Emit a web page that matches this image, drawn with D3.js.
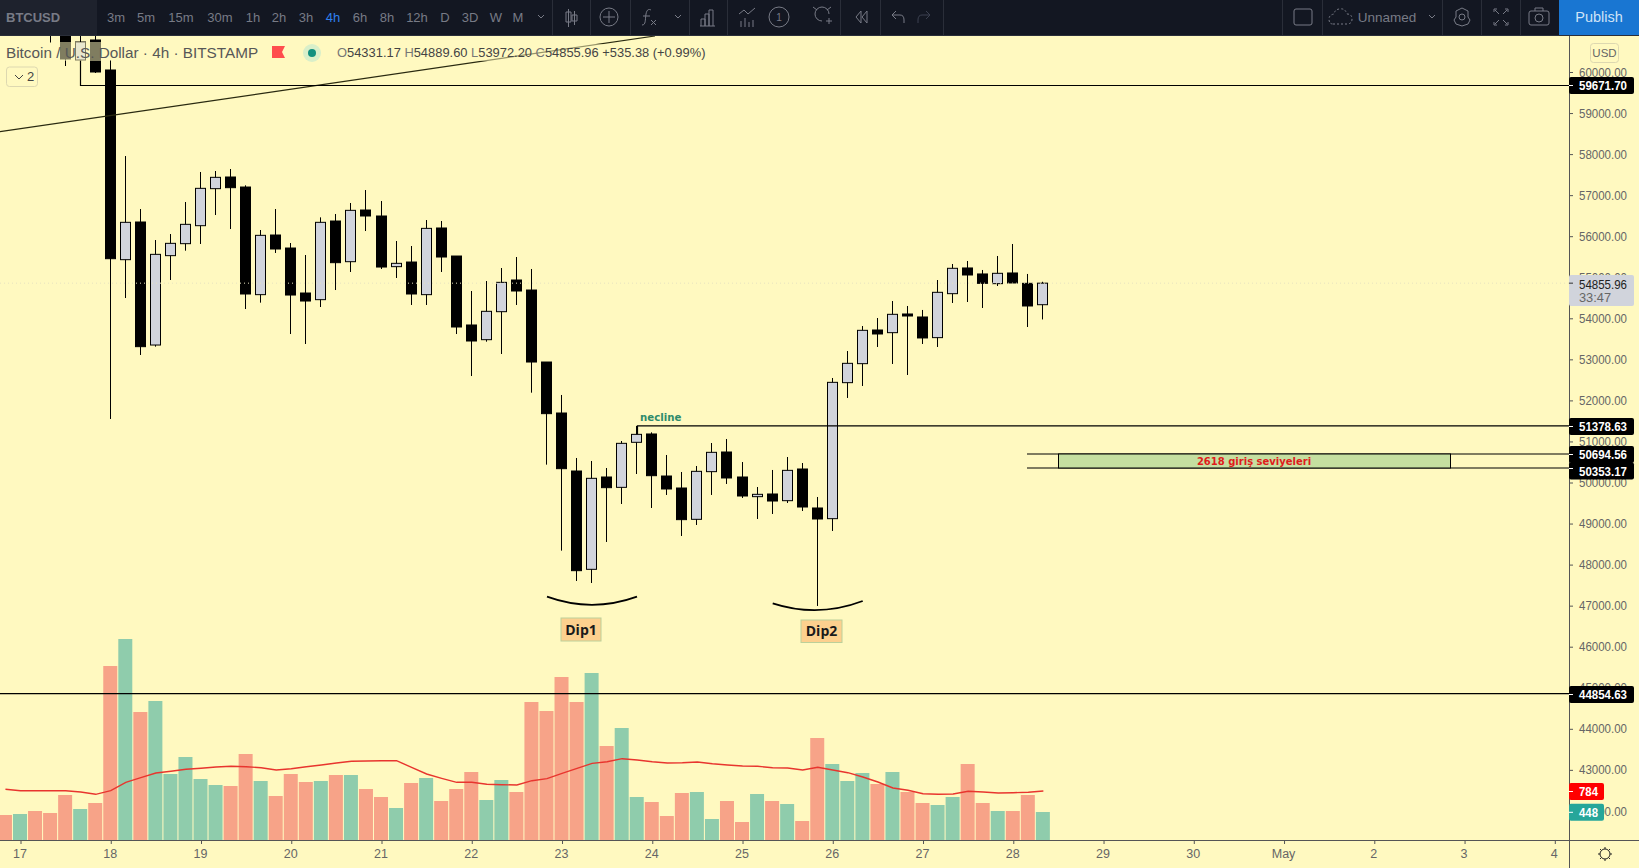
<!DOCTYPE html>
<html><head><meta charset="utf-8">
<script src="https://cdn.jsdelivr.net/npm/d3@7/dist/d3.min.js"></script>
<style>html,body{margin:0;padding:0;background:#fff9c0;overflow:hidden}svg{display:block}text{font-family:"Liberation Sans",sans-serif}</style>
</head><body><svg id="c" width="1639" height="868"></svg>
<script>
const opens=[61700,61650,61600,61500,60292,60780,60049,55428,56346,53349,55526,55818,56256,57158,57442,57198,54576,56029,55712,54616,54454,56370,55379,56638,56492,55258,55371,54576,56200,55517,53837,53479,54161,54933,54689,52935,51693,50280,47885,50134,49882,50979,51182,50158,49866,49103,50264,50743,50134,49655,49720,49557,50329,49379,49119,52432,52895,53715,53650,54105,54032,53529,54600,55226,55080,54844,55104,54852,54331.17];
const closes=[61650,61600,61500,60317,60731,60000,55452,56338,53309,55558,55826,56289,57166,57434,57182,54592,56021,55688,54567,54421,56338,55355,56630,56492,55249,55339,54592,56191,55493,53788,53447,54170,54876,54665,52935,51677,50337,47852,50102,49874,50954,51173,50166,49842,49095,50272,50735,50110,49671,49712,49549,50296,49403,49111,52440,52903,53707,53618,54097,54056,53521,54633,55218,55055,54852,55096,54860,54300,54855.96];
const highs=[62000,62000,62000,61900,61000,61300,60292,57953,56662,55907,56053,56833,57564,57588,57637,57239,56151,56662,55834,55542,56459,56541,56809,57125,56857,55883,55761,56394,56370,55517,54665,54908,55225,55493,55201,52935,52132,50597,50524,50353,51011,51378,51222,50670,50256,50402,50962,51060,50499,49890,50305,50621,50475,49647,52546,53203,53812,54007,54421,54300,54203,54933,55323,55396,55177,55518,55810,55080,54889.60];
const lows=[61400,61300,60706,60146,60200,59976,51547,54494,53106,53309,54933,55647,55810,56516,56175,54226,54381,55591,53617,53374,54275,54689,55128,56126,55201,54982,54324,54324,55128,53617,52594,53430,53130,54324,52188,50435,48340,47601,47552,48551,49476,50207,49379,49696,48697,48965,49696,49964,49623,49111,49233,49501,49306,46992,48819,52059,52351,53301,52887,52619,53374,53301,54373,54397,54251,54787,54844,53788,53972.20];
const volumes=[416,464,432,720,496,592,2784,3216,2048,2224,1056,1328,976,880,864,1376,944,704,1056,928,944,1040,1040,816,688,512,912,992,624,816,1088,640,960,768,2208,2064,2608,2208,2672,1504,1792,688,608,384,752,768,336,624,288,736,624,576,304,1632,1216,944,1072,896,1088,768,592,560,688,1216,592,464,464,720,448];
const volumeUp=[1,0,0,0,1,0,0,1,0,1,1,1,1,1,0,0,1,0,0,0,1,0,1,0,0,1,0,1,0,0,0,1,1,0,0,0,0,0,1,0,1,1,0,0,0,1,1,0,0,1,0,1,0,0,1,1,1,0,1,0,0,1,1,0,0,1,0,0,1];
const volumeMA=[789,789,789,789,768,731,789,923,997,1072,1099,1131,1147,1168,1179,1173,1157,1120,1141,1173,1200,1232,1259,1264,1269,1269,1163,1056,987,923,923,891,885,880,949,981,1067,1147,1227,1253,1301,1280,1253,1232,1237,1248,1221,1200,1184,1179,1157,1152,1120,1163,1120,1077,1008,928,832,795,741,731,736,779,768,752,757,763,784];
const earlyVolume=400, earlyMA=811;
const priceTicks=[60000,59000,58000,57000,56000,55000,54000,53000,52000,51000,50000,49000,48000,47000,46000,45000,44000,43000,42000];
const levels=[59671.70,51378.63,50694.56,50353.17,44854.63];
const dayLabels=["17","18","19","20","21","22","23","24","25","26","27","28","29","30","May","2","3","4"];
const intervals=["3m","5m","15m","30m","1h","2h","3h","4h","6h","8h","12h","D","3D","W","M"];
const intervalX=[116,146,181,220,253,279,306,333,360,387,417,445,470,496,518];
const separators=[552,590,630,689,727,840,880,943,1282,1322,1442,1481,1520];
const legendTitle="Bitcoin / U.S. Dollar · 4h · BITSTAMP";
const ohlc=[["O","54331.17"],["H","54889.60"],["L","53972.20"],["C","54855.96"]];

const W=1639,H=868,plotR=1569,plotTop=36,axisY=840;
const bg="#fff9c0",ink="#575757";
const svg=d3.select("#c");
const t0=Date.UTC(2021,3,17), hour=36e5;
const x=d3.scaleTime().domain([new Date(t0),new Date(Date.UTC(2021,4,4))]).range([20.5,1554.8]);
const y=d3.scaleLinear().domain([60000,42000]).range([72,810.9]);
const yVol=d3.scaleLinear().domain([0,3360]).range([axisY,630]);
const barX=i=>x(new Date(t0+i*4*hour));

svg.append("rect").attr("width",W).attr("height",H).attr("fill",bg);
svg.append("defs").append("clipPath").attr("id","plot").append("rect").attr("x",0).attr("y",plotTop).attr("width",plotR).attr("height",axisY-plotTop);
const plot=svg.append("g").attr("clip-path","url(#plot)");

// volume
const volColor=u=>u?"#8fccac":"#f7a388";
plot.append("rect").attr("x",barX(-1)-7.5).attr("width",14).attr("y",yVol(earlyVolume)).attr("height",axisY-yVol(earlyVolume)).attr("fill",volColor(0));
plot.selectAll(".v").data(volumes).join("rect").attr("x",(d,i)=>barX(i)-7.5).attr("width",14)
 .attr("y",d=>yVol(d)).attr("height",d=>axisY-yVol(d)).attr("fill",(d,i)=>volColor(volumeUp[i]));
const maPts=[[-1,earlyMA]].concat(volumeMA.map((d,i)=>[i,d]));
plot.append("path").attr("d",d3.line().x(d=>barX(d[0])).y(d=>yVol(d[1]))(maPts)).attr("fill","none").attr("stroke","#e8352e").attr("stroke-width",1.4);

// candles
const cg=plot.append("g");
opens.forEach((o,i)=>{
  const c=closes[i],cx=Math.round(barX(i))-.5,up=c>=o;
  cg.append("line").attr("x1",cx).attr("x2",cx).attr("y1",y(highs[i])).attr("y2",y(lows[i])).attr("stroke","#000");
  const y0=y(Math.max(o,c)),y1=y(Math.min(o,c));
  cg.append("rect").attr("x",cx-5).attr("width",10).attr("y",y0).attr("height",Math.max(y1-y0,1))
    .attr("fill",up?"#d1d4dc":"#000").attr("stroke","#000").attr("stroke-width",1);
});

// last price dotted
plot.append("line").attr("x1",0).attr("x2",plotR).attr("y1",y(54855.96)).attr("y2",y(54855.96)).attr("stroke","#e6e2c0").attr("stroke-dasharray","1 3");

// drawings
const dr=plot.append("g").attr("fill","none").attr("stroke","#000").attr("stroke-width",1.2);
dr.append("line").attr("x1",0).attr("y1",131.7).attr("x2",655).attr("y2",36).attr("stroke","#2a2a10");
dr.append("path").attr("d",`M80.5 60V${y(levels[0])}H${plotR}`);
dr.append("path").attr("d",`M637.5 ${y(51173)}V${y(levels[1])}H${plotR}`);
dr.append("line").attr("x1",0).attr("x2",plotR).attr("y1",y(levels[4])).attr("y2",y(levels[4]));
dr.append("line").attr("x1",1027).attr("x2",plotR).attr("y1",y(levels[2])).attr("y2",y(levels[2]));
dr.append("line").attr("x1",1027).attr("x2",plotR).attr("y1",y(levels[3])).attr("y2",y(levels[3]));
plot.append("rect").attr("x",1058.5).attr("width",392).attr("y",y(levels[2])).attr("height",y(levels[3])-y(levels[2])).attr("fill","#c5dfa0").attr("stroke","#000");
plot.append("text").attr("x",1254).attr("y",464.5).attr("text-anchor","middle").attr("fill","#e01b1b").attr("font-weight","bold").attr("font-size",10).style("font-family","'DejaVu Sans',sans-serif").text("2618 giriş seviyeleri");
plot.append("text").attr("x",640).attr("y",421).attr("fill","#2e8b6b").attr("font-weight","bold").attr("font-size",10.2).style("font-family","'DejaVu Sans',sans-serif").text("necline");
dr.append("path").attr("d","M547 596.7Q592 613 637 596.7").attr("stroke-width",1.8);
dr.append("path").attr("d","M772.7 603.3Q818 618 862.7 601").attr("stroke-width",1.8);
[[561,618,40,23,"Dip1"],[801,620,41,22.5,"Dip2"]].forEach(d=>{
  plot.append("rect").attr("x",d[0]).attr("y",d[1]).attr("width",d[2]).attr("height",d[3]).attr("fill","#fdd08e").attr("stroke","#bcd09a");
  plot.append("text").attr("x",d[0]+d[2]/2).attr("y",d[1]+d[3]/2+5).attr("text-anchor","middle").attr("font-weight","bold").attr("font-size",14).attr("fill","#1a1a1a").style("font-family","'Open Sans',sans-serif").text(d[4]);
});

// legend
const lg=svg.append("g");
lg.append("rect").attr("x",4).attr("y",42).attr("width",258).attr("height",19).attr("fill",bg).attr("opacity",.5);
lg.append("rect").attr("x",335).attr("y",44).attr("width",372).attr("height",17).attr("fill",bg).attr("opacity",.5);
lg.append("text").attr("x",6).attr("y",58).attr("font-size",15.3).attr("fill",ink).text(legendTitle);
lg.append("path").attr("d","M272 46H285L282 52L285 58H272Z").attr("fill","#ff4d4d");
lg.append("circle").attr("cx",312).attr("cy",53).attr("r",9).attr("fill","#d9efc9");
lg.append("circle").attr("cx",312).attr("cy",53).attr("r",4).attr("fill","#12907f");
let ot=lg.append("text").attr("x",337).attr("y",57).attr("font-size",12.9).attr("fill","#444");
ohlc.forEach(d=>{ot.append("tspan").attr("fill","#777").text(d[0]);ot.append("tspan").text(d[1]+" ");});
ot.append("tspan").text(" +535.38 (+0.99%)");
lg.append("rect").attr("x",6.5).attr("y",67).attr("width",31).attr("height",19.5).attr("rx",3).attr("fill",bg).attr("stroke","#ddd8b0");
lg.append("path").attr("d","M15 75L19 79L23 75").attr("fill","none").attr("stroke","#444");
lg.append("text").attr("x",27).attr("y",81).attr("font-size",13).attr("fill","#444").text("2");

// price axis
svg.append("line").attr("x1",plotR+.5).attr("x2",plotR+.5).attr("y1",plotTop).attr("y2",H).attr("stroke","#555").attr("stroke-width",1);
const pa=svg.append("g").attr("transform",`translate(${plotR},0)`).call(d3.axisRight(y).tickValues(priceTicks).tickFormat(d3.format(".2f")).tickSize(4).tickPadding(6));
pa.select(".domain").remove();
pa.selectAll("line").attr("stroke","#555");
pa.selectAll("text").attr("font-size",12.8).attr("fill","#666").attr("textLength",48).attr("lengthAdjust","spacingAndGlyphs").style("font-family","'Liberation Sans',sans-serif");
const badge=(yy,txt,fill,w,col,len,ty)=>{
  const h=17,cy=ty===undefined?yy:ty;
  svg.append("rect").attr("x",plotR).attr("y",cy-h/2).attr("width",w).attr("height",h).attr("rx",2).attr("fill",fill);
  svg.append("line").attr("x1",plotR).attr("x2",plotR+4).attr("y1",yy).attr("y2",yy).attr("stroke",col);
  svg.append("text").attr("x",plotR+10).attr("y",cy+4.5).attr("font-size",12.8).attr("fill",col).attr("font-weight","bold").attr("textLength",len).attr("lengthAdjust","spacingAndGlyphs").text(txt);
};
levels.forEach(l=>badge(Math.round(y(l))+.5,d3.format(".2f")(l),"#000",65,"#fff",48,l===levels[3]?471:undefined));
svg.append("rect").attr("x",plotR).attr("y",275).attr("width",65).attr("height",31).attr("rx",2).attr("fill","#d1d4dc");
svg.append("line").attr("x1",plotR).attr("x2",plotR+4).attr("y1",y(54855.96)).attr("y2",y(54855.96)).attr("stroke","#333");
svg.append("text").attr("x",plotR+10).attr("y",288.5).attr("font-size",12.8).attr("fill","#222").attr("textLength",48).attr("lengthAdjust","spacingAndGlyphs").text("54855.96");
svg.append("text").attr("x",plotR+10).attr("y",302).attr("font-size",12.8).attr("fill","#666").text("33:47");
badge(791.5,"784","#ff0000",35,"#fff",19);
badge(812.3,"448","#26a69a",35,"#fff",19);
svg.append("rect").attr("x",1590.5).attr("y",43.5).attr("width",28).attr("height",19).attr("rx",3).attr("fill",bg).attr("stroke","#ddd8b0");
svg.append("text").attr("x",1604.5).attr("y",57).attr("text-anchor","middle").attr("font-size",11.5).attr("fill","#666").text("USD");

// time axis
const dayDates=dayLabels.map((d,i)=>new Date(Date.UTC(2021,3,17+i)));
const ta=svg.append("g").attr("transform",`translate(0,${axisY})`).call(d3.axisBottom(x).tickValues(dayDates).tickFormat((d,i)=>dayLabels[i]).tickSize(4).tickPadding(5));
ta.select(".domain").remove();
ta.selectAll("line").attr("stroke","#555");
ta.selectAll("text").attr("font-size",12.5).attr("fill","#666").attr("dx",-1).style("font-family","'Liberation Sans',sans-serif");
svg.append("line").attr("x1",0).attr("x2",W).attr("y1",axisY+.5).attr("y2",axisY+.5).attr("stroke","#555");
// sun icon
const sun=svg.append("g").attr("transform","translate(1605,854)").attr("fill","none").attr("stroke","#222");
sun.append("circle").attr("r",5);
d3.range(8).forEach(k=>{const a=k*Math.PI/4;sun.append("line").attr("x1",5*Math.cos(a)).attr("y1",5*Math.sin(a)).attr("x2",7*Math.cos(a)).attr("y2",7*Math.sin(a));});

// toolbar
const tb=svg.append("g");
tb.append("rect").attr("width",W).attr("height",35).attr("fill","#131722");
tb.append("rect").attr("width",97).attr("height",35).attr("fill","#1e222d");
tb.append("line").attr("x1",0).attr("x2",W).attr("y1",35.5).attr("y2",35.5).attr("stroke","#2a2e39");
tb.append("rect").attr("x",1559).attr("width",80).attr("height",35).attr("fill","#1976d2");
tb.selectAll(".sep").data(separators).join("line").attr("x1",d=>d+.5).attr("x2",d=>d+.5).attr("y1",0).attr("y2",35).attr("stroke","#2a2e39");
tb.append("text").attr("x",6).attr("y",21.5).attr("font-size",13).attr("font-weight","bold").attr("fill","#787b86").text("BTCUSD");
tb.selectAll(".iv").data(intervals).join("text").attr("x",(d,i)=>intervalX[i]).attr("y",21.5).attr("text-anchor","middle").attr("font-size",13).attr("fill",d=>d==="4h"?"#2f80ed":"#787b86").text(d=>d);
tb.append("text").attr("x",1387).attr("y",21.5).attr("text-anchor","middle").attr("font-size",13.5).attr("fill","#787b86").text("Unnamed");
tb.append("text").attr("x",1599).attr("y",21.5).attr("text-anchor","middle").attr("font-size",14.5).attr("fill","#cfe3f7").text("Publish");
const ic=tb.append("g").attr("fill","none").attr("stroke","#787b86");
const chev=cx=>ic.append("path").attr("d",`M${cx-3} 15L${cx} 18L${cx+3} 15`);
[541,678,1432].forEach(chev);
ic.append("path").attr("d","M568.5 9V27M574.5 11V25M566 12H571V22H566ZM572 15H577V21H572Z");
ic.append("circle").attr("cx",609).attr("cy",17).attr("r",9);ic.append("path").attr("d","M603 17H615M609 11V23");
ic.append("path").attr("d","M642 25C646 25 645 20 646 14C647 9 649 9 651 10M643 16H650M651 20L656 25M656 20L651 25");
ic.append("path").attr("d","M700 26H715M701 26V19H705V26M705 26V14H709V26M709 26V10H713V26");
ic.append("path").attr("d","M739 14L744 10L748 14L755 8M741 27V21M745 27V18M749 27V22M753 27V20");
ic.append("circle").attr("cx",779).attr("cy",17).attr("r",10);
tb.append("text").attr("x",779).attr("y",21).attr("text-anchor","middle").attr("font-size",10).attr("fill","#787b86").text("1");
ic.append("path").attr("d","M815 14A7 7 0 0 1 829 14M817 10L813 7M827 10L831 7M815 14A7 7 0 0 0 822 21M826 21H832M829 18V24");
ic.append("path").attr("d","M861 11L856 17L861 23V11M867 11L862 17L867 23V11");
ic.append("path").attr("d","M892 15H900Q904 15 904 20V23M892 15L896 11M892 15L896 19");
ic.append("path").attr("d","M930 15H922Q918 15 918 20V23M930 15L926 11M930 15L926 19").attr("stroke","#3c4150");
ic.append("rect").attr("x",1294).attr("y",9).attr("width",18).attr("height",16).attr("rx",2);
ic.append("path").attr("d","M1333 24H1347Q1352 24 1352 19Q1352 14 1347 14Q1345 8 1340 9Q1335 9 1334 14Q1329 15 1329 19Q1329 24 1333 24Z").attr("stroke-dasharray","2 2");
ic.append("path").attr("d","M1462 8L1468 11V17L1470 20L1468 24L1462 26L1456 24L1454 20L1456 17V11Z");ic.append("circle").attr("cx",1462).attr("cy",17).attr("r",3);
ic.append("path").attr("d","M1494 12V9H1497M1508 12V9H1505M1494 22V25H1497M1508 22V25H1505M1495 10L1499 14M1507 10L1503 14M1495 24L1499 20M1507 24L1503 20");
ic.append("rect").attr("x",1529).attr("y",11).attr("width",20).attr("height",14).attr("rx",2);ic.append("circle").attr("cx",1539).attr("cy",18).attr("r",4);ic.append("path").attr("d","M1535 11V8H1543V11");
</script></body></html>
